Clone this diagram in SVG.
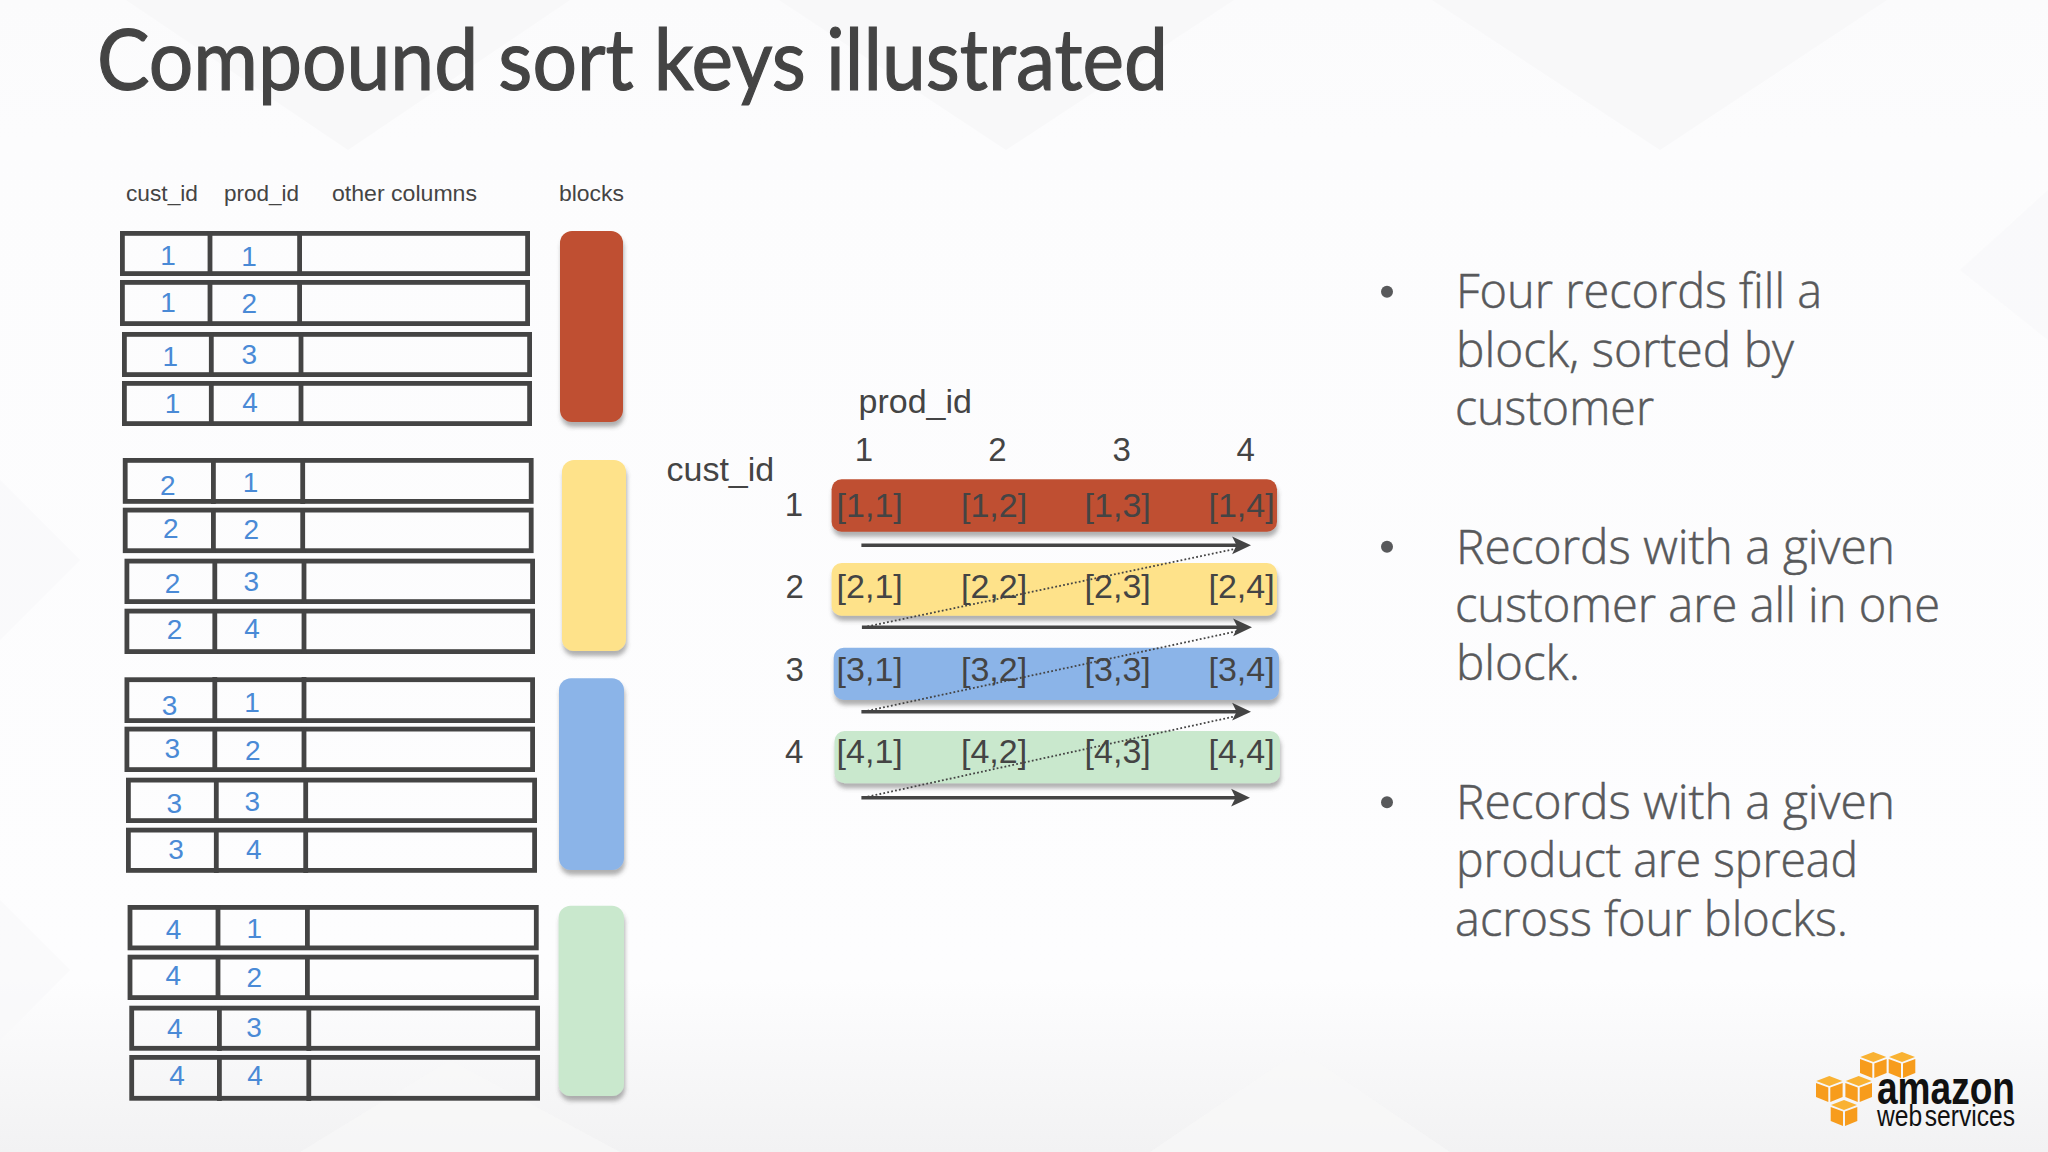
<svg xmlns="http://www.w3.org/2000/svg" xmlns:xlink="http://www.w3.org/1999/xlink" width="2048" height="1152" viewBox="0 0 2048 1152">
<style>
text{font-family:"Liberation Sans",Arial,sans-serif;fill:#444}
.title{font-family:Lato,"Noto Sans",sans-serif;font-size:85px;fill:#444;stroke:#444;stroke-width:1.2px}
.hd{font-size:22.5px}
.lab{font-size:34px}
.num{font-size:33px;text-anchor:middle}
.cell{font-size:34px}
.d{font-size:28px;fill:#4a8ad6;text-anchor:middle}
.bl{font-family:"Open Sans","Noto Sans",sans-serif;font-size:47px;fill:#58595b;stroke:#58595b;stroke-width:.5px;font-weight:300}
.r{fill:none;stroke:#444;stroke-width:4.8}
.l{stroke:#444;stroke-width:4.8}
.a{stroke:#444;stroke-width:3.4;marker-end:url(#ah)}
.dot{stroke:#444;stroke-width:1.8;stroke-dasharray:1.8 2.2;fill:none}
.red{fill:#bf5030}.yel{fill:#fee28a}.blu{fill:#8bb4e8}.grn{fill:#c9e8cd}
.cube-t{fill:#f9b233}.cube-s{fill:#f79c1c}
</style>
<defs>
<linearGradient id="bg" x1="0" y1="0" x2="0" y2="1"><stop offset="0" stop-color="#fbfbfc"/><stop offset=".12" stop-color="#fcfcfd"/><stop offset=".85" stop-color="#fdfdfe"/><stop offset="1" stop-color="#f2f2f3"/></linearGradient>
<filter id="sh" x="-20%" y="-20%" width="140%" height="140%"><feDropShadow dx="1" dy="5" stdDeviation="2" flood-color="#555" flood-opacity=".45"/></filter>
<marker id="ah" markerUnits="userSpaceOnUse" markerWidth="20" markerHeight="20" viewBox="0 0 18 18" refX="8" refY="9" orient="auto"><path d="M0,1 L17,9 L0,17 L4,9 Z" fill="#444"/></marker>
<g id="cube"><polygon class="cube-t" points="-13,5 0,0 13,5 0,10"/><polygon class="cube-s" points="-13.3,7 -1,11.5 -1,26 -13.3,21"/><polygon class="cube-s" points="13.3,7 1,11.5 1,26 13.3,21"/></g>
</defs>
<rect id="background" width="2048" height="1152" fill="url(#bg)"/>
<g id="bg-pattern" fill="#f8f8f9">
<polygon points="126,0 570,0 348,150"/>
<polygon points="779,0 1234,0 1006,150"/>
<polygon points="1432,0 1887,0 1660,150"/>
<polygon points="0,480 80,560 0,640" opacity=".7"/>
<polygon points="1960,270 2048,190 2048,340" opacity=".7"/>
<polygon points="0,900 70,970 0,1040" opacity=".7"/>
<polygon points="1150,1152 1300,1050 1450,1152" opacity=".6"/>
<polygon points="300,1152 450,1060 620,1152" opacity=".6"/>
</g>
<text class="title" x="97" y="90" textLength="1071" lengthAdjust="spacingAndGlyphs">Compound sort keys illustrated</text>
<g id="table-headers">
<text class="hd" x="126" y="200.7" textLength="72" lengthAdjust="spacingAndGlyphs">cust_id</text>
<text class="hd" x="224" y="200.7" textLength="75" lengthAdjust="spacingAndGlyphs">prod_id</text>
<text class="hd" x="332" y="200.7" textLength="145" lengthAdjust="spacingAndGlyphs">other columns</text>
<text class="hd" x="559" y="200.7" textLength="65" lengthAdjust="spacingAndGlyphs">blocks</text>
</g>
<g id="row-1-1"><rect class="r" x="122.4" y="233.4" width="405.2" height="40.2"/><path class="l" d="M210,231V276M299.6,231V276"/><text class="d" x="168" y="265">1</text><text class="d" x="249" y="265.7">1</text></g>
<g id="row-1-2"><rect class="r" x="122.4" y="282.4" width="405.2" height="41.2"/><path class="l" d="M210,280V326M299.6,280V326"/><text class="d" x="168" y="312.3">1</text><text class="d" x="249.3" y="313.3">2</text></g>
<g id="row-1-3"><rect class="r" x="124.4" y="334.4" width="405.2" height="40.2"/><path class="l" d="M211.3,332V377M301,332V377"/><text class="d" x="170.4" y="366">1</text><text class="d" x="249.3" y="364">3</text></g>
<g id="row-1-4"><rect class="r" x="124.4" y="383.4" width="405.2" height="40.2"/><path class="l" d="M211.3,381V426M301,381V426"/><text class="d" x="172.5" y="412.7">1</text><text class="d" x="250" y="412.3">4</text></g>
<g id="row-2-1"><rect class="r" x="125.2" y="460.4" width="406" height="41"/><path class="l" d="M213.4,458V504M302.7,458V504"/><text class="d" x="167.8" y="495">2</text><text class="d" x="250.6" y="491.7">1</text></g>
<g id="row-2-2"><rect class="r" x="125.2" y="510.1" width="406" height="40.6"/><path class="l" d="M213.4,508V553M302.7,508V553"/><text class="d" x="170.9" y="538.3">2</text><text class="d" x="251.3" y="539.3">2</text></g>
<g id="row-2-3"><rect class="r" x="126.9" y="561.1" width="405.7" height="40.5"/><path class="l" d="M214.8,559V604M304,559V604"/><text class="d" x="172.5" y="592.7">2</text><text class="d" x="251.3" y="590.7">3</text></g>
<g id="row-2-4"><rect class="r" x="126.9" y="611.1" width="405.7" height="40.5"/><path class="l" d="M214.8,609V654M304,609V654"/><text class="d" x="174.6" y="639">2</text><text class="d" x="252" y="638.3">4</text></g>
<g id="row-3-1"><rect class="r" x="126.9" y="679.7" width="405.7" height="40.9"/><path class="l" d="M214.8,677V723M304,677V723"/><text class="d" x="169.5" y="715">3</text><text class="d" x="252" y="712.3">1</text></g>
<g id="row-3-2"><rect class="r" x="126.9" y="729.1" width="405.7" height="40.5"/><path class="l" d="M214.8,727V772M304,727V772"/><text class="d" x="172.2" y="758.3">3</text><text class="d" x="252.7" y="760">2</text></g>
<g id="row-3-3"><rect class="r" x="128.4" y="780.1" width="406.2" height="40.5"/><path class="l" d="M216.3,778V823M305.7,778V823"/><text class="d" x="174.2" y="812.7">3</text><text class="d" x="252.3" y="811">3</text></g>
<g id="row-3-4"><rect class="r" x="128.4" y="830.1" width="406.2" height="40.3"/><path class="l" d="M216.3,828V873M305.7,828V873"/><text class="d" x="176" y="859.3">3</text><text class="d" x="253.7" y="858.7">4</text></g>
<g id="row-4-1"><rect class="r" x="130" y="907.4" width="406.3" height="40.5"/><path class="l" d="M218,905V950M307.4,905V950"/><text class="d" x="173.6" y="939">4</text><text class="d" x="254.4" y="938.3">1</text></g>
<g id="row-4-2"><rect class="r" x="130" y="957.1" width="406.3" height="40.5"/><path class="l" d="M218,955V1000M307.4,955V1000"/><text class="d" x="173.2" y="985">4</text><text class="d" x="254.4" y="986.7">2</text></g>
<g id="row-4-3"><rect class="r" x="131.7" y="1008.1" width="405.9" height="40.2"/><path class="l" d="M219.4,1006V1051M308.8,1006V1051"/><text class="d" x="174.9" y="1038.3">4</text><text class="d" x="254" y="1037">3</text></g>
<g id="row-4-4"><rect class="r" x="131.7" y="1057.4" width="405.9" height="40.9"/><path class="l" d="M219.4,1055V1101M308.8,1055V1101"/><text class="d" x="177" y="1085">4</text><text class="d" x="255" y="1084.7">4</text></g>
<g id="block-1"><rect class="red" x="560" y="231" width="63" height="191" rx="12" filter="url(#sh)"/></g>
<g id="block-2"><rect class="yel" x="562" y="460" width="64" height="191" rx="12" filter="url(#sh)"/></g>
<g id="block-3"><rect class="blu" x="559" y="678.3" width="65" height="191.7" rx="12" filter="url(#sh)"/></g>
<g id="block-4"><rect class="grn" x="558.6" y="905.7" width="65.4" height="190.3" rx="12" filter="url(#sh)"/></g>
<g id="matrix-labels">
<text class="lab" x="858.5" y="413.3">prod_id</text>
<text class="lab" x="666.5" y="481">cust_id</text>
<text class="num" x="864" y="460.7">1</text><text class="num" x="997.4" y="460.7">2</text><text class="num" x="1121.8" y="460.7">3</text><text class="num" x="1245.8" y="460.7">4</text>
<text class="num" x="794" y="515.7">1</text><text class="num" x="794.7" y="598.3">2</text><text class="num" x="794.7" y="680.7">3</text><text class="num" x="794.3" y="763.3">4</text>
</g>
<g id="band-1"><rect class="red" x="831.6" y="479.3" width="445.4" height="52.4" rx="10" filter="url(#sh)"/><text class="cell" x="836.6" y="516.7">[1,1]</text><text class="cell" x="961" y="516.7">[1,2]</text><text class="cell" x="1084.6" y="516.7">[1,3]</text><text class="cell" x="1208.5" y="516.7">[1,4]</text></g>
<g id="band-2"><rect class="yel" x="831.6" y="563" width="445.4" height="52.7" rx="10" filter="url(#sh)"/><text class="cell" x="836.6" y="598">[2,1]</text><text class="cell" x="961" y="598">[2,2]</text><text class="cell" x="1084.6" y="598">[2,3]</text><text class="cell" x="1208.5" y="598">[2,4]</text></g>
<g id="band-3"><rect class="blu" x="833.7" y="647.7" width="445.3" height="52.3" rx="10" filter="url(#sh)"/><text class="cell" x="836.6" y="680.7">[3,1]</text><text class="cell" x="961" y="680.7">[3,2]</text><text class="cell" x="1084.6" y="680.7">[3,3]</text><text class="cell" x="1208.5" y="680.7">[3,4]</text></g>
<g id="band-4"><rect class="grn" x="834.5" y="731" width="445.5" height="52.3" rx="10" filter="url(#sh)"/><text class="cell" x="836.6" y="763.3">[4,1]</text><text class="cell" x="961" y="763.3">[4,2]</text><text class="cell" x="1084.6" y="763.3">[4,3]</text><text class="cell" x="1208.5" y="763.3">[4,4]</text></g>
<g id="connectors">
<line class="a" x1="861.4" y1="545.3" x2="1241" y2="545.3"/>
<line class="a" x1="861.9" y1="627.3" x2="1242" y2="627.3"/>
<line class="a" x1="861.4" y1="711.7" x2="1241" y2="711.7"/>
<line class="a" x1="861.4" y1="797.7" x2="1240" y2="797.7"/>
<line class="dot" x1="863.5" y1="627.3" x2="1238" y2="548.3"/>
<line class="dot" x1="863.5" y1="711.7" x2="1238" y2="631"/>
<line class="dot" x1="867.7" y1="796.7" x2="1238" y2="715.7"/>
</g>
<g id="bullets">
<circle cx="1387" cy="291.7" r="6" fill="#58595b"/><circle cx="1387" cy="546.7" r="6" fill="#58595b"/><circle cx="1387" cy="802.3" r="6" fill="#58595b"/>
<text class="bl" x="1456" y="308.3" textLength="366" lengthAdjust="spacingAndGlyphs">Four records fill a</text>
<text class="bl" x="1456" y="366.7" textLength="338" lengthAdjust="spacingAndGlyphs">block, sorted by</text>
<text class="bl" x="1455" y="425" textLength="199" lengthAdjust="spacingAndGlyphs">customer</text>
<text class="bl" x="1456" y="564" textLength="439" lengthAdjust="spacingAndGlyphs">Records with a given</text>
<text class="bl" x="1455" y="621.7" textLength="485" lengthAdjust="spacingAndGlyphs">customer are all in one</text>
<text class="bl" x="1456" y="680" textLength="124" lengthAdjust="spacingAndGlyphs">block.</text>
<text class="bl" x="1456" y="819.3" textLength="439" lengthAdjust="spacingAndGlyphs">Records with a given</text>
<text class="bl" x="1456" y="877.3" textLength="402" lengthAdjust="spacingAndGlyphs">product are spread</text>
<text class="bl" x="1455" y="935.7" textLength="393" lengthAdjust="spacingAndGlyphs">across four blocks.</text>
</g>
<g id="logo">
<use xlink:href="#cube" x="1829.3" y="1076"/><use xlink:href="#cube" x="1858.7" y="1076"/><use xlink:href="#cube" x="1844" y="1100"/><use xlink:href="#cube" x="1873.3" y="1052"/><use xlink:href="#cube" x="1902" y="1052"/>
<text x="1877" y="1104" font-size="46" font-weight="700" style="fill:#111" textLength="138" lengthAdjust="spacingAndGlyphs">amazon</text>
<text x="1877" y="1125.7" font-size="29" style="fill:#111;word-spacing:-5px" textLength="138" lengthAdjust="spacingAndGlyphs">web services</text>
</g>
</svg>
